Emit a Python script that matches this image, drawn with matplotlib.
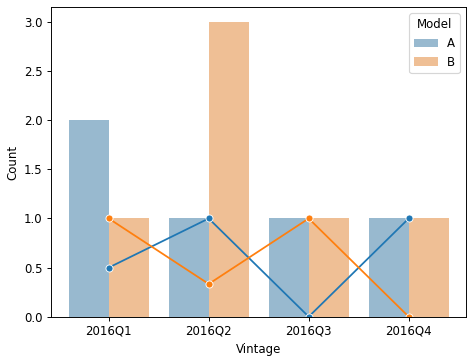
import matplotlib
matplotlib.use("Agg")
import matplotlib.pyplot as plt
import numpy as np

categories = ["2016Q1", "2016Q2", "2016Q3", "2016Q4"]
models = ["A", "B"]
count_A = [2, 1, 1, 1]
count_B = [1, 3, 1, 1]
line_A = [0.5, 1.0, 0.0, 1.0]
line_B = [1.0, 1/3, 1.0, 0.0]

blue = "#1f77b4"
orange = "#ff7f0e"
bar_blue = "#3274a1"
bar_orange = "#e1812c"

DPI = 85
fig = plt.figure(figsize=(474 / DPI, 361 / DPI), dpi=DPI)
ax = fig.add_axes([0.107, 0.1227, 0.8755, 0.857])
x = np.arange(len(categories))
w = 0.4
ax.bar(x - w/2, count_A, width=w, color=bar_blue, alpha=0.5, label="A")
ax.bar(x + w/2, count_B, width=w, color=bar_orange, alpha=0.5, label="B")
ax.plot(x, line_A, color=blue, marker="o", markersize=6, markeredgecolor="white", markeredgewidth=0.75)
ax.plot(x, line_B, color=orange, marker="o", markersize=6, markeredgecolor="white", markeredgewidth=0.75)
ax.set_xticks(x)
ax.set_xticklabels(categories)
ax.set_xlim(-0.58, 3.57)
ax.set_ylim(0, 3.15)
ax.set_yticks(np.arange(0, 3.01, 0.5))
ax.set_xlabel("Vintage")
ax.set_ylabel("Count")
ax.legend(title="Model", loc="upper right")
fig.savefig("out.png", dpi=DPI)
